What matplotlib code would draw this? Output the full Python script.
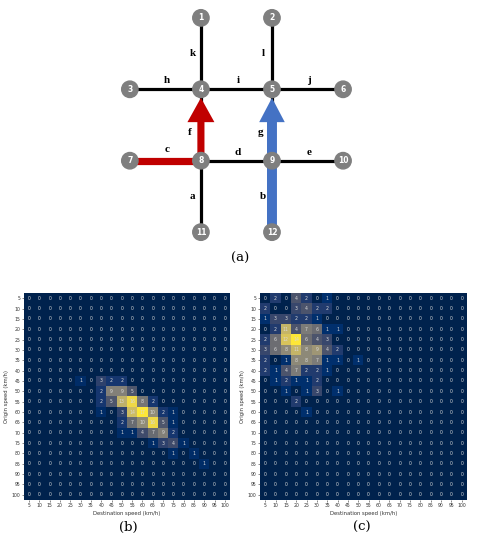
import matplotlib
matplotlib.use("Agg")
import matplotlib.pyplot as plt
from matplotlib.patches import Circle, FancyArrow
import numpy as np

# road network: node -> (column, row) on the grid
nodes = {
    1: (1, 0), 2: (2, 0),
    3: (0, 1), 4: (1, 1), 5: (2, 1), 6: (3, 1),
    7: (0, 2), 8: (1, 2), 9: (2, 2), 10: (3, 2),
    11: (1, 3), 12: (2, 3),
}
edges = {
    "a": (8, 11), "b": (9, 12), "c": (7, 8), "d": (8, 9), "e": (9, 10), "f": (4, 8),
    "g": (5, 9), "h": (3, 4), "i": (4, 5), "j": (5, 6), "k": (1, 4), "l": (2, 5),
}
red_route = [7, 8, 4]
blue_route = [12, 9, 5]

speeds = [5, 10, 15, 20, 25, 30, 35, 40, 45, 50, 55, 60, 65, 70, 75, 80, 85, 90, 95, 100]

# rows = origin speed, cols = destination speed
counts_b = [
    [0, 0, 0, 0, 0, 0, 0, 0, 0, 0, 0, 0, 0, 0, 0, 0, 0, 0, 0, 0],
    [0, 0, 0, 0, 0, 0, 0, 0, 0, 0, 0, 0, 0, 0, 0, 0, 0, 0, 0, 0],
    [0, 0, 0, 0, 0, 0, 0, 0, 0, 0, 0, 0, 0, 0, 0, 0, 0, 0, 0, 0],
    [0, 0, 0, 0, 0, 0, 0, 0, 0, 0, 0, 0, 0, 0, 0, 0, 0, 0, 0, 0],
    [0, 0, 0, 0, 0, 0, 0, 0, 0, 0, 0, 0, 0, 0, 0, 0, 0, 0, 0, 0],
    [0, 0, 0, 0, 0, 0, 0, 0, 0, 0, 0, 0, 0, 0, 0, 0, 0, 0, 0, 0],
    [0, 0, 0, 0, 0, 0, 0, 0, 0, 0, 0, 0, 0, 0, 0, 0, 0, 0, 0, 0],
    [0, 0, 0, 0, 0, 0, 0, 0, 0, 0, 0, 0, 0, 0, 0, 0, 0, 0, 0, 0],
    [0, 0, 0, 0, 0, 1, 0, 3, 2, 2, 0, 0, 0, 0, 0, 0, 0, 0, 0, 0],
    [0, 0, 0, 0, 0, 0, 0, 2, 9, 9, 5, 0, 0, 0, 0, 0, 0, 0, 0, 0],
    [0, 0, 0, 0, 0, 0, 0, 2, 5, 13, 16, 8, 2, 0, 0, 0, 0, 0, 0, 0],
    [0, 0, 0, 0, 0, 0, 0, 1, 0, 3, 14, 17, 10, 2, 1, 0, 0, 0, 0, 0],
    [0, 0, 0, 0, 0, 0, 0, 0, 0, 2, 7, 10, 16, 5, 1, 0, 0, 0, 0, 0],
    [0, 0, 0, 0, 0, 0, 0, 0, 0, 1, 1, 4, 7, 9, 2, 0, 0, 0, 0, 0],
    [0, 0, 0, 0, 0, 0, 0, 0, 0, 0, 0, 0, 1, 3, 4, 1, 0, 0, 0, 0],
    [0, 0, 0, 0, 0, 0, 0, 0, 0, 0, 0, 0, 0, 0, 1, 0, 1, 0, 0, 0],
    [0, 0, 0, 0, 0, 0, 0, 0, 0, 0, 0, 0, 0, 0, 0, 0, 0, 1, 0, 0],
    [0, 0, 0, 0, 0, 0, 0, 0, 0, 0, 0, 0, 0, 0, 0, 0, 0, 0, 0, 0],
    [0, 0, 0, 0, 0, 0, 0, 0, 0, 0, 0, 0, 0, 0, 0, 0, 0, 0, 0, 0],
    [0, 0, 0, 0, 0, 0, 0, 0, 0, 0, 0, 0, 0, 0, 0, 0, 0, 0, 0, 0],
]
counts_c = [
    [0, 2, 0, 4, 2, 0, 1, 0, 0, 0, 0, 0, 0, 0, 0, 0, 0, 0, 0, 0],
    [2, 0, 0, 3, 4, 2, 2, 0, 0, 0, 0, 0, 0, 0, 0, 0, 0, 0, 0, 0],
    [1, 3, 3, 2, 2, 1, 0, 0, 0, 0, 0, 0, 0, 0, 0, 0, 0, 0, 0, 0],
    [0, 2, 11, 4, 7, 6, 1, 1, 0, 0, 0, 0, 0, 0, 0, 0, 0, 0, 0, 0],
    [2, 6, 12, 14, 6, 4, 3, 0, 0, 0, 0, 0, 0, 0, 0, 0, 0, 0, 0, 0],
    [3, 6, 8, 11, 8, 9, 4, 2, 0, 0, 0, 0, 0, 0, 0, 0, 0, 0, 0, 0],
    [2, 0, 1, 8, 8, 7, 1, 1, 0, 1, 0, 0, 0, 0, 0, 0, 0, 0, 0, 0],
    [2, 1, 4, 7, 2, 2, 1, 0, 0, 0, 0, 0, 0, 0, 0, 0, 0, 0, 0, 0],
    [0, 1, 2, 1, 1, 2, 0, 0, 0, 0, 0, 0, 0, 0, 0, 0, 0, 0, 0, 0],
    [0, 0, 1, 0, 1, 3, 0, 1, 0, 0, 0, 0, 0, 0, 0, 0, 0, 0, 0, 0],
    [0, 0, 0, 2, 0, 0, 0, 0, 0, 0, 0, 0, 0, 0, 0, 0, 0, 0, 0, 0],
    [0, 0, 0, 0, 1, 0, 0, 0, 0, 0, 0, 0, 0, 0, 0, 0, 0, 0, 0, 0],
    [0, 0, 0, 0, 0, 0, 0, 0, 0, 0, 0, 0, 0, 0, 0, 0, 0, 0, 0, 0],
    [0, 0, 0, 0, 0, 0, 0, 0, 0, 0, 0, 0, 0, 0, 0, 0, 0, 0, 0, 0],
    [0, 0, 0, 0, 0, 0, 0, 0, 0, 0, 0, 0, 0, 0, 0, 0, 0, 0, 0, 0],
    [0, 0, 0, 0, 0, 0, 0, 0, 0, 0, 0, 0, 0, 0, 0, 0, 0, 0, 0, 0],
    [0, 0, 0, 0, 0, 0, 0, 0, 0, 0, 0, 0, 0, 0, 0, 0, 0, 0, 0, 0],
    [0, 0, 0, 0, 0, 0, 0, 0, 0, 0, 0, 0, 0, 0, 0, 0, 0, 0, 0, 0],
    [0, 0, 0, 0, 0, 0, 0, 0, 0, 0, 0, 0, 0, 0, 0, 0, 0, 0, 0, 0],
    [0, 0, 0, 0, 0, 0, 0, 0, 0, 0, 0, 0, 0, 0, 0, 0, 0, 0, 0, 0],
]

W, H = 479, 550
fig = plt.figure(figsize=(W / 100, H / 100), dpi=100)


def box(l, t, r, b):
    return [l / W, 1 - b / H, (r - l) / W, (b - t) / H]


# ---- (a) network diagram ----
ax = fig.add_axes(box(100, 0, 380, 250))
ax.set_xlim(-0.42, 3.52)
ax.set_ylim(3.25, -0.25)
ax.axis("off")

for name, (u, v) in edges.items():
    (x0, y0), (x1, y1) = nodes[u], nodes[v]
    ax.plot([x0, x1], [y0, y1], color="black", lw=2.3, solid_capstyle="butt", zorder=1)
    mx, my = (x0 + x1) / 2, (y0 + y1) / 2
    if x0 == x1:
        dx, dy = -0.12, 0.0
        if name in ("f", "g"):
            dx, dy = -0.16, 0.11
    else:
        dx, dy = 0.02, -0.12
        if name == "c":
            dy = -0.15
    ax.text(mx + dx, my + dy, name, ha="center", va="center", fontsize=8,
            fontweight="bold", family="Liberation Serif", zorder=5)

# red route: horizontal leg then arrow up
(rx0, ry0), (rx1, ry1), (rx2, ry2) = [nodes[n] for n in red_route]
ax.plot([rx0, rx1], [ry0, ry1], color="#c00000", lw=5.2, solid_capstyle="butt", zorder=2)
ax.add_patch(FancyArrow(rx1, ry1, 0, (ry2 + 0.12) - ry1, width=0.1, head_width=0.38,
                        head_length=0.34, length_includes_head=True,
                        color="#c00000", lw=0, zorder=2))
# blue route: straight arrow up
(bx0, by0), _, (bx2, by2) = [nodes[n] for n in blue_route]
ax.add_patch(FancyArrow(bx0, by0, 0, (by2 + 0.12) - by0, width=0.14, head_width=0.36,
                        head_length=0.34, length_includes_head=True,
                        color="#4472c4", lw=0, zorder=2))

for n, (x, y) in nodes.items():
    ax.add_patch(Circle((x, y), 0.115, color="#7f7f7f", zorder=3))
    ax.text(x, y, str(n), ha="center", va="center", color="white", fontsize=5.5,
            fontweight="bold", zorder=4)

fig.text(240 / W, 1 - 258 / H, "(a)", ha="center", va="center", fontsize=9.5,
         family="DejaVu Serif")


# ---- (b), (c) heatmaps ----
def heatmap(rect, counts, tag, tag_x):
    hx = fig.add_axes(box(*rect))
    data = np.array(counts)
    hx.imshow(data, cmap="cividis", aspect="auto", interpolation="nearest")
    for i in range(data.shape[0]):
        for j in range(data.shape[1]):
            hx.text(j, i, str(data[i, j]), ha="center", va="center",
                    fontsize=3.3, color="#d8d8d8")
    hx.set_xticks(range(len(speeds)))
    hx.set_xticklabels(speeds)
    hx.set_yticks(range(len(speeds)))
    hx.set_yticklabels(speeds)
    hx.tick_params(labelsize=3.3, length=1.5, width=0.4, pad=1, colors="#333333")
    for s in hx.spines.values():
        s.set_visible(False)
    hx.set_xlabel("Destination speed (km/h)", fontsize=3.8, labelpad=1.5, color="#333333")
    hx.set_ylabel("Origin speed (km/h)", fontsize=3.8, labelpad=2, color="#333333")
    fig.text(tag_x / W, 1 - 527 / H, tag, ha="center", va="center", fontsize=9.5,
             family="DejaVu Serif")


heatmap((24, 293, 230, 500), counts_b, "(b)", 128)
heatmap((260, 293, 467, 500), counts_c, "(c)", 362)

fig.savefig("out.png", dpi=100)
